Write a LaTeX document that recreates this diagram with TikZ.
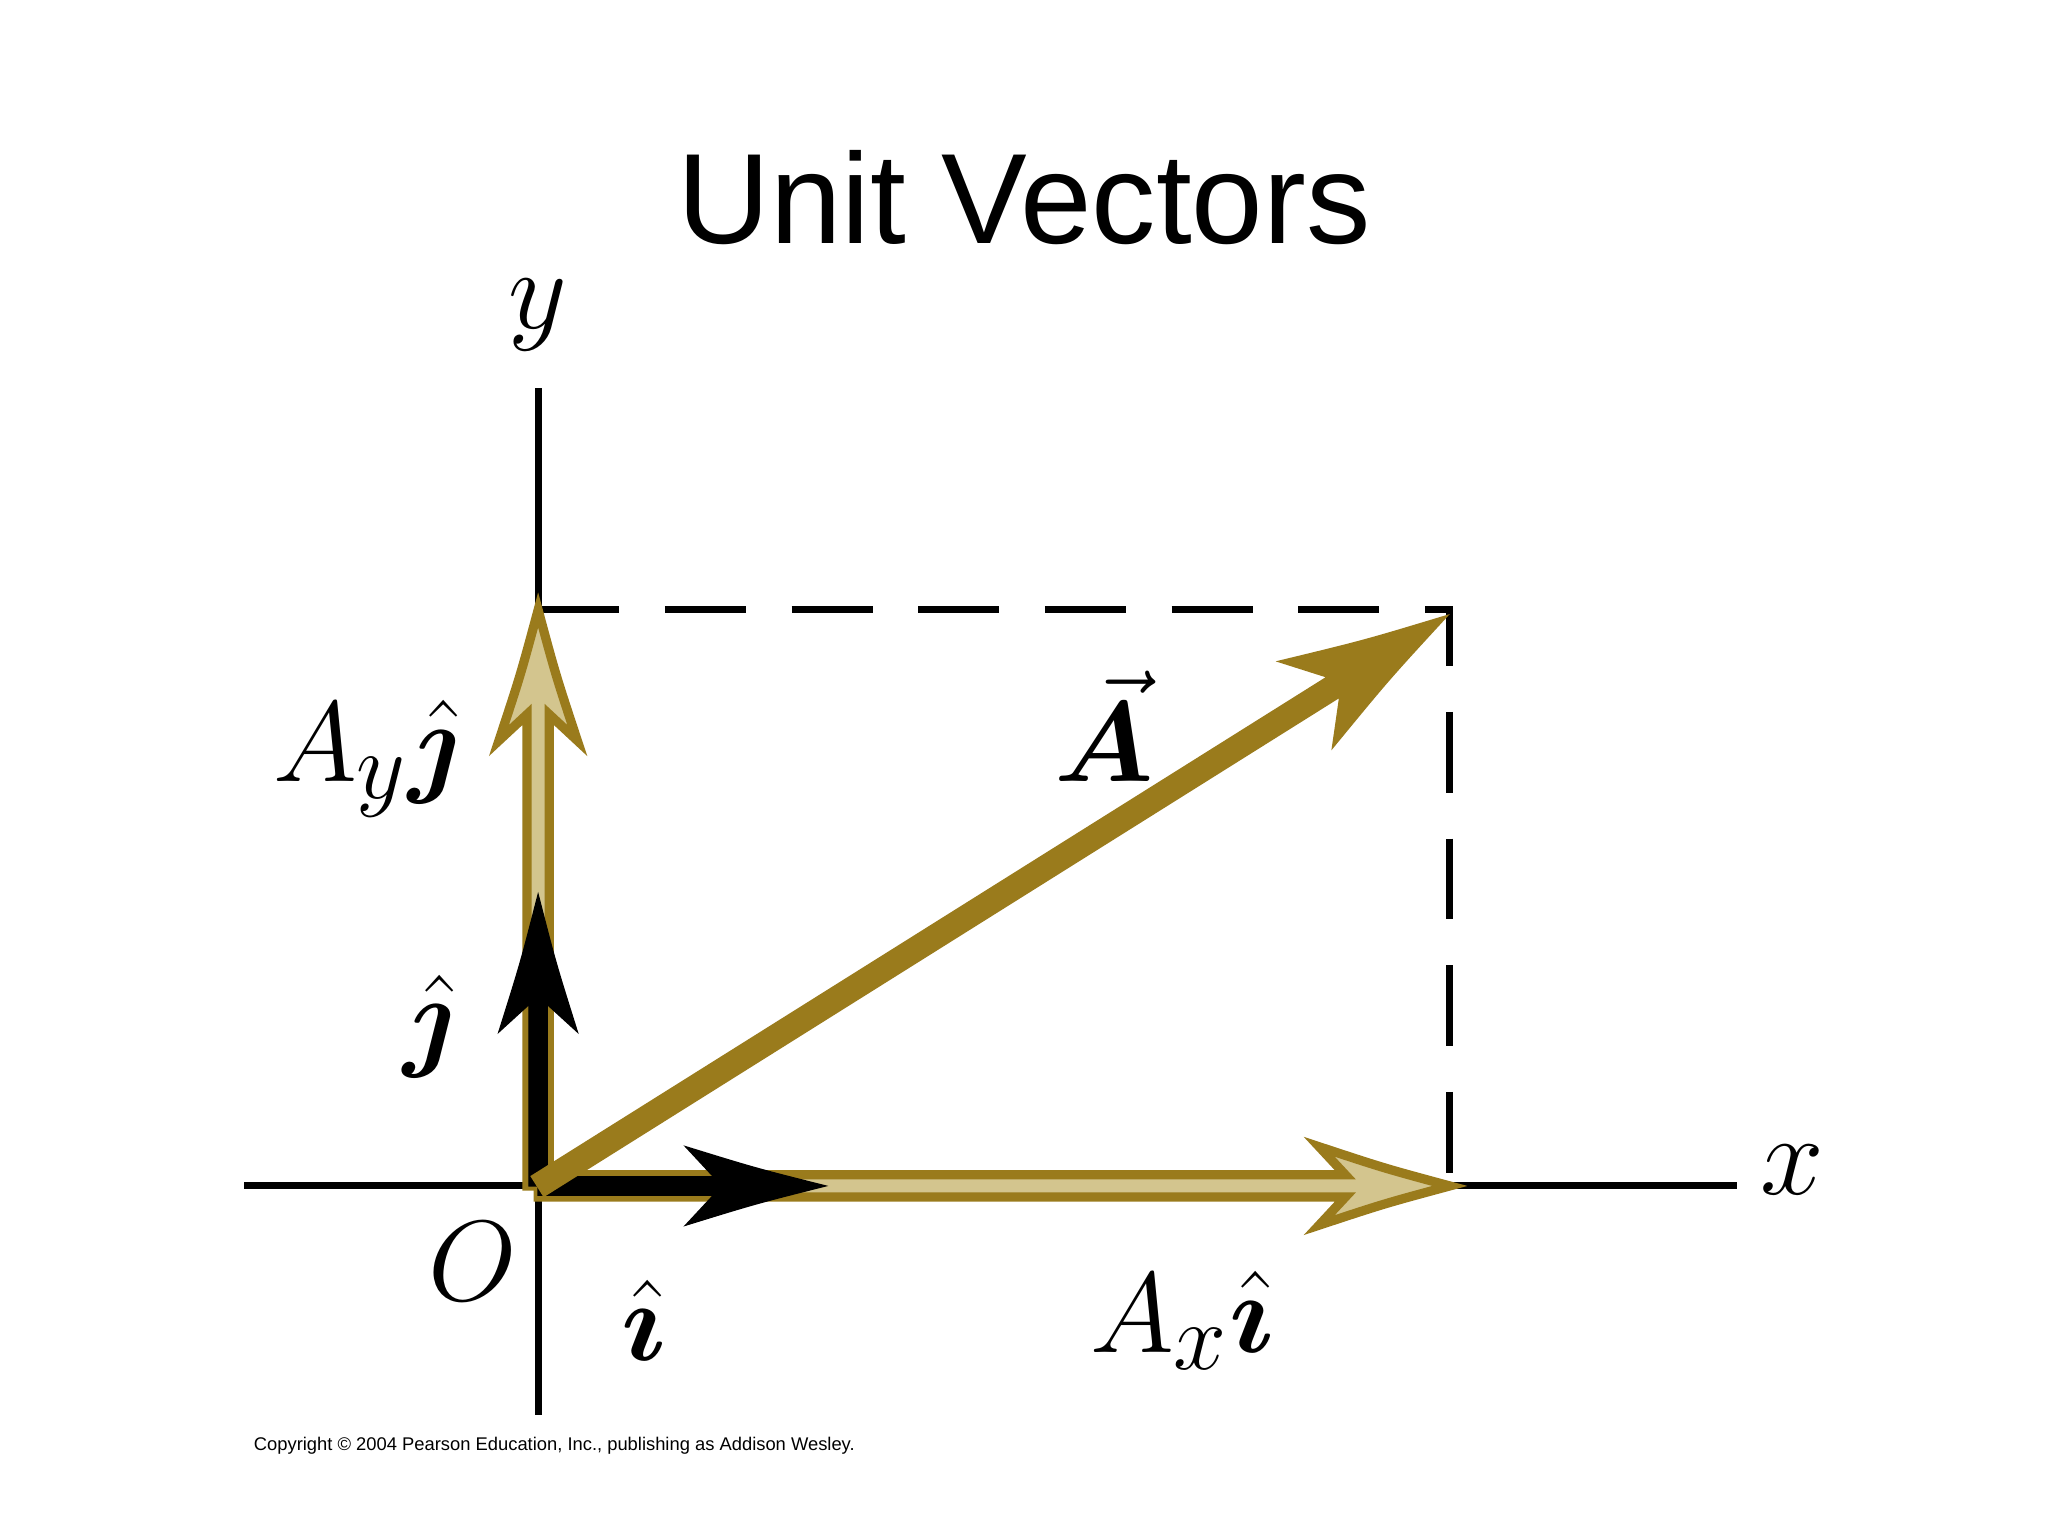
\documentclass[tikz,border=0pt]{standalone}
\usepackage{fontspec}
\setmainfont{Liberation Serif}
\setsansfont{Liberation Sans}
\usepackage{amsmath,bm}
\begin{document}
\begin{tikzpicture}[x=1cm,y=1cm,
  axis/.style={line width=1.5pt,black},
  gold/.style={draw=gold,fill=gold,line width=0.6pt,line join=miter},
  tan/.style={draw=gold,fill=tanc,line width=2pt,line join=miter},
  blk/.style={draw=black,fill=black,line width=0.3pt},
  lab/.style={font=\fontsize{30}{36}\selectfont},
  pics/farrow/.style n args={5}{code={
    \path[#5] (0,-#2) -- ({#1-#3*0.8},-#2) -- ({#1-#3},-#4)
      .. controls ({#1-#3*0.5},{-#4*0.45}) .. (#1,0)
      .. controls ({#1-#3*0.5},{#4*0.45}) .. ({#1-#3},#4)
      -- ({#1-#3*0.8},#2) -- (0,#2) -- cycle;}}]
\definecolor{gold}{HTML}{9A7B1C}
\definecolor{tanc}{HTML}{D3C58E}
\useasboundingbox (0,0) rectangle (15.68,11.76);
\fill[white] (0,0) rectangle (15.68,11.76);
\coordinate (O) at (4.12,2.68);
\coordinate (P) at (11.10,7.09);
\coordinate (Xe) at (13.30,2.68);
\coordinate (Xs) at (1.87,2.68);
\coordinate (Yt) at (4.12,8.79);
\coordinate (Yb) at (4.12,0.93);
\node[font=\sffamily\fontsize{28}{34}\selectfont] (title) at (7.84,10.25) {Unit Vectors};
\draw[axis] (Xs) -- (Xe);
\draw[axis] (Yb) -- (Yt);
\draw[axis,dash pattern=on 0.62cm off 0.35cm] (O |- P) -- (P) -- (P |- O);
\pic[rotate=90] at (O) {farrow={4.41}{0.085}{1.0}{0.3}{tan}};
\pic at (O) {farrow={6.98}{0.085}{1.0}{0.3}{tan}};
\pic[rotate=90] at (O) {farrow={2.23}{0.07}{1.05}{0.3}{blk}};
\pic at (O) {farrow={2.20}{0.07}{1.07}{0.3}{blk}};
\pic[rotate=32.1] at (O) {farrow={8.20}{0.085}{1.25}{0.38}{gold}};
\node[lab] (ly) at (4.12,9.35) {$y$};
\node[lab] (lx) at (13.72,2.80) {$x$};
\node[lab] (lO) at (3.62,2.10) {$O$};
\node[lab] (li) at (4.93,1.65) {$\hat{\bm{\imath}}$};
\node[lab] (lAx) at (9.05,1.65) {$A_x\hat{\bm{\imath}}$};
\node[lab] (lj) at (3.28,3.90) {$\hat{\bm{\jmath}}$};
\node[lab] (lAy) at (2.80,5.95) {$A_y\hat{\bm{\jmath}}$};
\node[lab] (lA) at (8.45,6.20) {$\vec{\bm{A}}$};
\node[font=\sffamily\fontsize{4}{5}\selectfont,anchor=west] (copy) at (1.82,0.69) {Copyright © 2004 Pearson Education, Inc., publishing as Addison Wesley.};
\end{tikzpicture}
\end{document}
